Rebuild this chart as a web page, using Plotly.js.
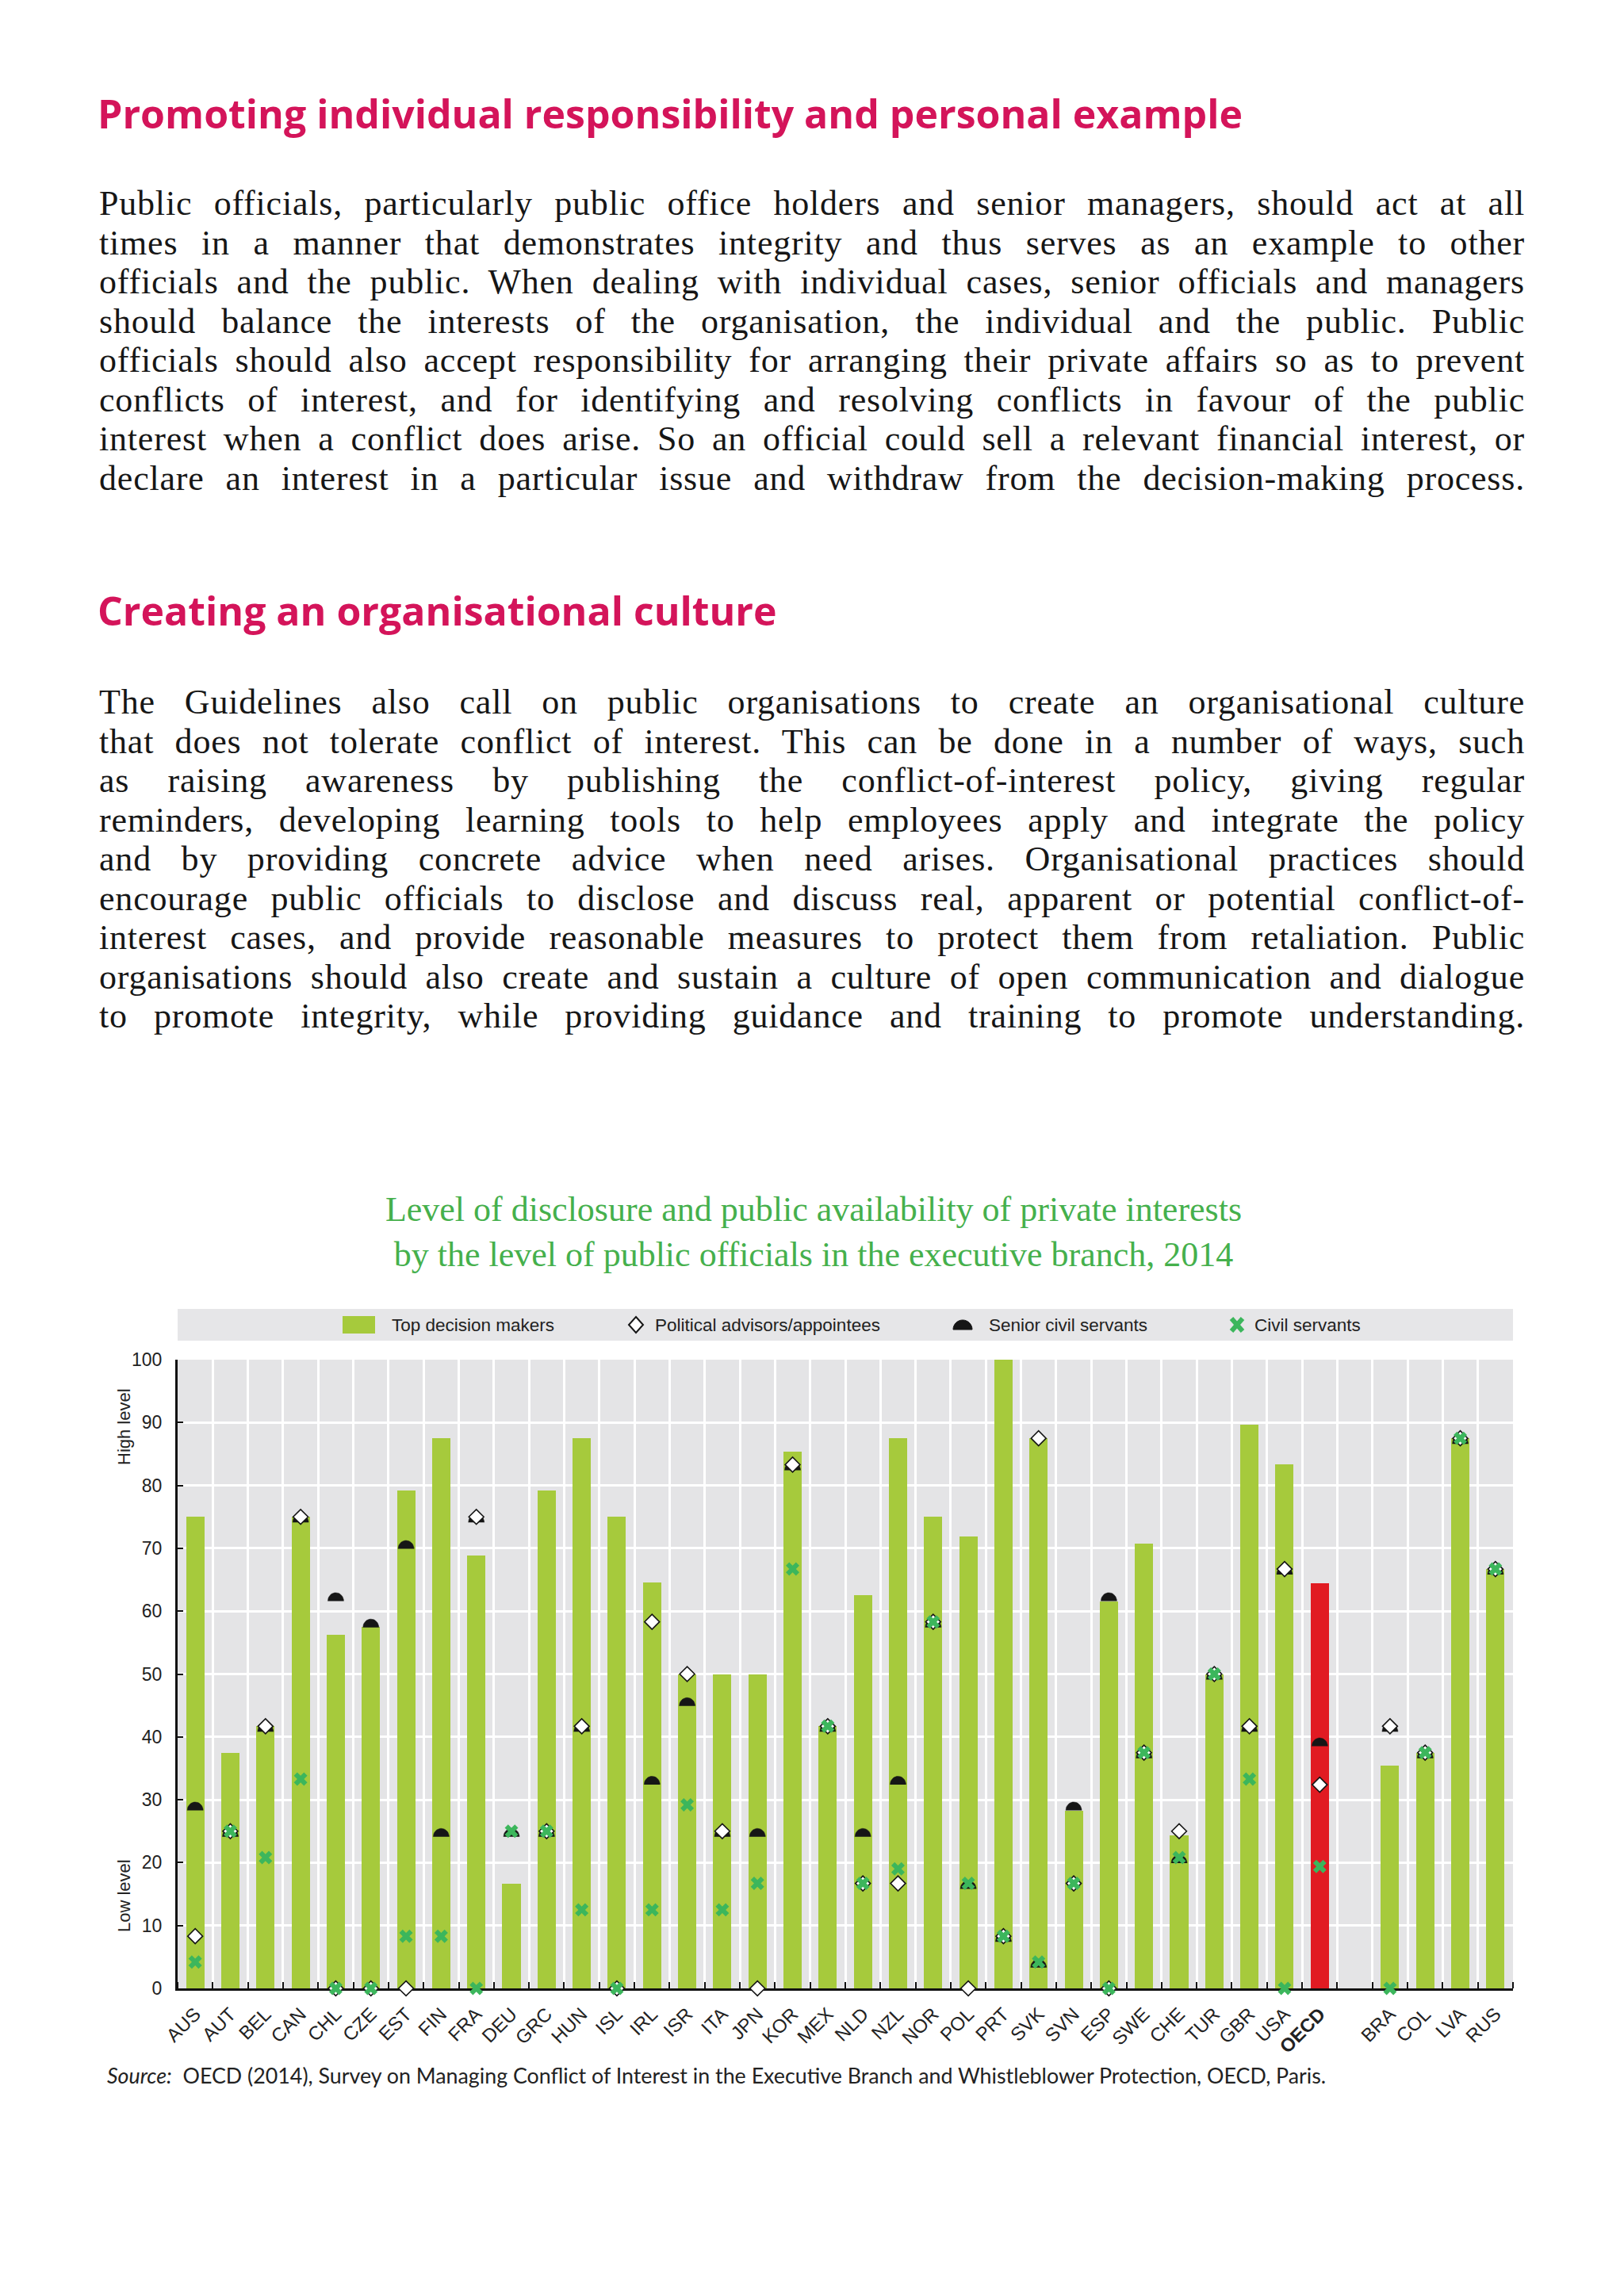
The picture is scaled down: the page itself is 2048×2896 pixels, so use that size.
<!DOCTYPE html>
<html>
<head>
<meta charset="utf-8">
<script src="https://cdn.plot.ly/plotly-3.0.1.min.js"></script>
<style>
html,body{margin:0;padding:0;background:#ffffff;}
#page{position:relative;width:2048px;height:2896px;overflow:hidden;background:#ffffff;}
.h{position:absolute;left:123px;margin:0;font-family:'Open Sans',Lato,sans-serif;font-weight:700;font-size:50px;line-height:50px;color:#d4145a;white-space:nowrap;}
.para{position:absolute;left:125px;width:1798px;font-family:'Liberation Serif',serif;font-size:44px;line-height:49.5px;color:#161616;}
.ln{text-align:justify;text-align-last:justify;white-space:normal;}
#chart{position:absolute;left:0;top:1450px;width:2048px;height:1250px;}
</style>
</head>
<body>
<div id="page">
  <h2 class="h" style="top:118px">Promoting individual responsibility and personal example</h2>
  <div class="para" style="top:232px">
    <div class="ln">Public officials, particularly public office holders and senior managers, should act at all</div>
    <div class="ln">times in a manner that demonstrates integrity and thus serves as an example to other</div>
    <div class="ln">officials and the public. When dealing with individual cases, senior officials and managers</div>
    <div class="ln">should balance the interests of the organisation, the individual and the public. Public</div>
    <div class="ln">officials should also accept responsibility for arranging their private affairs so as to prevent</div>
    <div class="ln">conflicts of interest, and for identifying and resolving conflicts in favour of the public</div>
    <div class="ln">interest when a conflict does arise. So an official could sell a relevant financial interest, or</div>
    <div class="ln">declare an interest in a particular issue and withdraw from the decision-making process.</div>
  </div>
  <h2 class="h" style="top:745px">Creating an organisational culture</h2>
  <div class="para" style="top:861px">
    <div class="ln">The Guidelines also call on public organisations to create an organisational culture</div>
    <div class="ln">that does not tolerate conflict of interest. This can be done in a number of ways, such</div>
    <div class="ln">as raising awareness by publishing the conflict-of-interest policy, giving regular</div>
    <div class="ln">reminders, developing learning tools to help employees apply and integrate the policy</div>
    <div class="ln">and by providing concrete advice when need arises. Organisational practices should</div>
    <div class="ln">encourage public officials to disclose and discuss real, apparent or potential conflict-of-</div>
    <div class="ln">interest cases, and provide reasonable measures to protect them from retaliation. Public</div>
    <div class="ln">organisations should also create and sustain a culture of open communication and dialogue</div>
    <div class="ln">to promote integrity, while providing guidance and training to promote understanding.</div>
  </div>
  <div id="chart"></div>
</div>
<script>
// ---------------- DATA ----------------
const categories = ['AUS','AUT','BEL','CAN','CHL','CZE','EST','FIN','FRA','DEU','GRC','HUN','ISL','IRL','ISR','ITA','JPN','KOR','MEX','NLD','NZL','NOR','POL','PRT','SVK','SVN','ESP','SWE','CHE','TUR','GBR','USA','OECD','BRA','COL','LVA','RUS'];
const topDecisionMakers   = [75, 37.5, 41.7, 75, 56.2, 57.5, 79.2, 87.5, 68.8, 16.7, 79.2, 87.5, 75, 64.6, 50, 50, 50, 85.4, 41.7, 62.5, 87.5, 75, 71.9, 100, 87.5, 28.3, 61.6, 70.8, 24.3, 50, 89.6, 83.3, 64.4, 35.4, 37.5, 87.5, 66.7];
const politicalAdvisors   = [8.3, 25, 41.7, 75, 0, 0, 0, null, 75, null, 25, 41.7, 0, 58.3, 50, 25, 0, 83.3, 41.7, 16.7, 16.7, 58.3, 0, 8.3, 87.5, 16.7, 0, 37.5, 25, 50, 41.7, 66.7, 32.4, 41.7, 37.5, 87.5, 66.7];
const seniorCivilServants = [29.2, 25, 41.7, 75, 62.5, 58.3, 70.8, 25, 75, 25, 25, 41.7, null, 33.3, 45.8, 25, 25, 83.3, 41.7, 25, 33.3, 58.3, 16.7, 8.3, 4.2, 29.2, 62.5, 37.5, 20.8, 50, 41.7, 66.7, 39.4, 41.7, 37.5, 87.5, 66.7];
const civilServants       = [4.2, 25, 20.8, 33.3, 0, 0, 8.3, 8.3, 0, 25, 25, 12.5, 0, 12.5, 29.2, 12.5, 16.7, 66.7, 41.7, 16.7, 19, 58.3, 16.7, 8.3, 4.2, 16.7, 0, 37.5, 20.8, 50, 33.3, 0, 19.4, 0, 37.5, 87.5, 66.7];
const seriesNames = ['Top decision makers', 'Political advisors/appointees', 'Senior civil servants', 'Civil servants'];
const yTickValues = [0, 10, 20, 30, 40, 50, 60, 70, 80, 90, 100];
const yAxisLabels = ['High level', 'Low level'];
const chartTitle = 'Level of disclosure and public availability of private interests<br>by the level of public officials in the executive branch, 2014';
const sourceNote = '<i>Source:</i>&nbsp; OECD (2014), Survey on Managing Conflict of Interest in the Executive Branch and Whistleblower Protection, OECD, Paris.';

// ---------------- fit justified text lines ----------------
(function(){
  const meas = document.createElement('span');
  meas.style.cssText = 'position:absolute;left:0;top:0;visibility:hidden;white-space:nowrap;font-family:"Liberation Serif",serif;';
  document.body.appendChild(meas);
  document.querySelectorAll('.ln').forEach(function(el){
    const txt = el.textContent;
    let fs = 44, ls = 0.8;
    const w = function(){ meas.style.fontSize = fs + 'px'; meas.style.letterSpacing = ls + 'px'; meas.textContent = txt; return meas.offsetWidth; };
    while (w() > 1788 && ls > -0.6) ls -= 0.1;
    while (w() > 1788 && fs > 34) fs -= 0.5;
    el.style.fontSize = fs + 'px';
    el.style.letterSpacing = ls + 'px';
  });
  meas.remove();
})();

// ---------------- layout geometry ----------------
const W = 2048, H = 1250;
const M = {l: 224, r: 140, t: 265, b: 192};
const chartTop = 1450;
const plotW = W - M.l - M.r, plotH = H - M.t - M.b;
const plotBottomPage = chartTop + M.t + plotH;
const px2x = function(px){ return (px - M.l) / plotW; };
const py2y = function(py){ return (plotBottomPage - py) / plotH; };

const GREEN = '#a6ca3c', RED = '#e11b22', XGREEN = '#3cb65c', DARK = '#161616', TITLEGREEN = '#45b04c';

const gapAfter = categories.indexOf('OECD');
const xpos = categories.map(function(c, i){ return i > gapAfter ? i + 1 : i; });
const nSlots = categories.length + 1;
const pxX = plotW / nSlots, pxY = plotH / 100;

// dome (half-disc) outlines for senior civil servants, anchored on each value
const domeX = [], domeY = [];
const R = 10, RY = 10.5, BASE = -7;
seniorCivilServants.forEach(function(v, i){
  if (v === null) return;
  for (let k = 0; k <= 18; k++) {
    const t = Math.PI * k / 18;
    domeX.push(xpos[i] - R * Math.cos(t) / pxX);
    domeY.push(v + (BASE + RY * Math.sin(t)) / pxY);
  }
  domeX.push(null); domeY.push(null);
});

const traces = [
  {
    type: 'bar', name: seriesNames[0], x: xpos, y: topDecisionMakers, width: 0.52,
    marker: {color: categories.map(function(c){ return c === 'OECD' ? RED : GREEN; }), line: {width: 0}},
    hoverinfo: 'skip', showlegend: false
  },
  {
    type: 'scatter', mode: 'lines', name: seriesNames[2], x: domeX, y: domeY,
    fill: 'toself', fillcolor: DARK, line: {color: DARK, width: 0.5},
    connectgaps: false, hoverinfo: 'skip', showlegend: false
  },
  {
    type: 'scatter', mode: 'markers', name: seriesNames[1], x: xpos, y: politicalAdvisors,
    marker: {symbol: 'diamond', size: 14.5, color: '#ffffff', line: {color: DARK, width: 1.6}},
    cliponaxis: false, hoverinfo: 'skip', showlegend: false
  },
  {
    type: 'scatter', mode: 'markers', name: seriesNames[3], x: xpos, y: civilServants,
    marker: {symbol: 'x', size: 15, color: XGREEN, line: {width: 0}},
    cliponaxis: false, hoverinfo: 'skip', showlegend: false
  }
];

const legendY = py2y(1671);
const shapes = [
  {type: 'rect', xref: 'paper', yref: 'paper', x0: 0, x1: 1, y0: py2y(1691), y1: py2y(1651),
   fillcolor: '#e6e6e8', line: {width: 0}, layer: 'below'},
  {type: 'rect', xref: 'paper', yref: 'paper', x0: px2x(432), x1: px2x(473), y0: py2y(1682), y1: py2y(1660),
   fillcolor: GREEN, line: {width: 0}},
  {type: 'path', xref: 'paper', yref: 'paper', xsizemode: 'pixel', ysizemode: 'pixel',
   xanchor: px2x(802), yanchor: legendY, path: 'M0,10 L9,0 L0,-10 L-9,0 Z',
   fillcolor: '#ffffff', line: {color: DARK, width: 2}},
  {type: 'path', xref: 'paper', yref: 'paper', xsizemode: 'pixel', ysizemode: 'pixel',
   xanchor: px2x(1214), yanchor: legendY, path: 'M-12,-6 C-12,0.6 -6.6,6 0,6 C6.6,6 12,0.6 12,-6 Z',
   fillcolor: DARK, line: {color: DARK, width: 1}},
  {type: 'line', xref: 'paper', yref: 'paper', xsizemode: 'pixel', ysizemode: 'pixel',
   xanchor: px2x(1560), yanchor: legendY, x0: -7, x1: 7, y0: -8, y1: 8, line: {color: XGREEN, width: 6}},
  {type: 'line', xref: 'paper', yref: 'paper', xsizemode: 'pixel', ysizemode: 'pixel',
   xanchor: px2x(1560), yanchor: legendY, x0: -7, x1: 7, y0: 8, y1: -8, line: {color: XGREEN, width: 6}}
];

const labelFont = {family: 'Liberation Sans, Arial, sans-serif', size: 22.5, color: '#222222'};
const axisLabelFont = {family: 'Liberation Sans, Arial, sans-serif', size: 22, color: '#222222'};
const annotations = [
  {xref: 'paper', yref: 'paper', x: px2x(492), y: legendY, xanchor: 'left', yanchor: 'middle', text: seriesNames[0], showarrow: false, font: labelFont},
  {xref: 'paper', yref: 'paper', x: px2x(824), y: legendY, xanchor: 'left', yanchor: 'middle', text: seriesNames[1], showarrow: false, font: labelFont},
  {xref: 'paper', yref: 'paper', x: px2x(1245), y: legendY, xanchor: 'left', yanchor: 'middle', text: seriesNames[2], showarrow: false, font: labelFont},
  {xref: 'paper', yref: 'paper', x: px2x(1580), y: legendY, xanchor: 'left', yanchor: 'middle', text: seriesNames[3], showarrow: false, font: labelFont},
  {xref: 'paper', yref: 'paper', x: px2x(156), y: py2y(1800), xanchor: 'center', yanchor: 'middle', textangle: -90, text: yAxisLabels[0], showarrow: false, font: axisLabelFont},
  {xref: 'paper', yref: 'paper', x: px2x(156), y: py2y(2391), xanchor: 'center', yanchor: 'middle', textangle: -90, text: yAxisLabels[1], showarrow: false, font: axisLabelFont},
  {xref: 'paper', yref: 'paper', x: px2x(133), y: py2y(2618), xanchor: 'left', yanchor: 'middle', text: sourceNote, showarrow: false,
   font: {family: 'Lato, Open Sans, sans-serif', size: 26.8, color: '#222222'}}
];

const layout = {
  width: W, height: H,
  margin: M,
  paper_bgcolor: 'rgba(0,0,0,0)',
  plot_bgcolor: '#e4e4e6',
  title: {
    text: chartTitle,
    font: {family: 'Liberation Serif, serif', size: 44, color: TITLEGREEN},
    xref: 'paper', x: px2x(1026), xanchor: 'center',
    yref: 'container', y: 1 - (1540 - chartTop) / H, yanchor: 'middle'
  },
  showlegend: false,
  hovermode: false,
  bargap: 0,
  xaxis: {
    type: 'linear', range: [-0.5, nSlots - 0.5], fixedrange: true,
    tickmode: 'array', tickvals: xpos,
    ticktext: categories.map(function(c){ return c === 'OECD' ? '<b>' + c + '</b>' : c; }),
    tickangle: -45, ticks: '', ticklabelstandoff: 6,
    tickfont: {family: 'Liberation Sans, Arial, sans-serif', size: 24, color: '#222222'},
    showgrid: false, zeroline: false,
    showline: true, linecolor: '#111111', linewidth: 3,
    layer: 'below traces',
    minor: {tickmode: 'linear', tick0: 0.5, dtick: 1, ticks: 'inside', ticklen: 8, tickwidth: 2, tickcolor: '#111111',
            showgrid: true, gridcolor: '#ffffff', gridwidth: 3}
  },
  yaxis: {
    range: [0, 100], fixedrange: true,
    tickmode: 'array', tickvals: yTickValues,
    ticks: 'inside', ticklen: 7, tickwidth: 2, tickcolor: '#111111', ticklabelstandoff: 12,
    tickfont: {family: 'Liberation Sans, Arial, sans-serif', size: 23, color: '#222222'},
    showgrid: true, gridcolor: '#ffffff', gridwidth: 3, zeroline: false,
    showline: true, linecolor: '#111111', linewidth: 3,
    layer: 'below traces'
  },
  shapes: shapes,
  annotations: annotations
};

Plotly.newPlot('chart', traces, layout, {staticPlot: true, displayModeBar: false});
</script>
</body>
</html>
